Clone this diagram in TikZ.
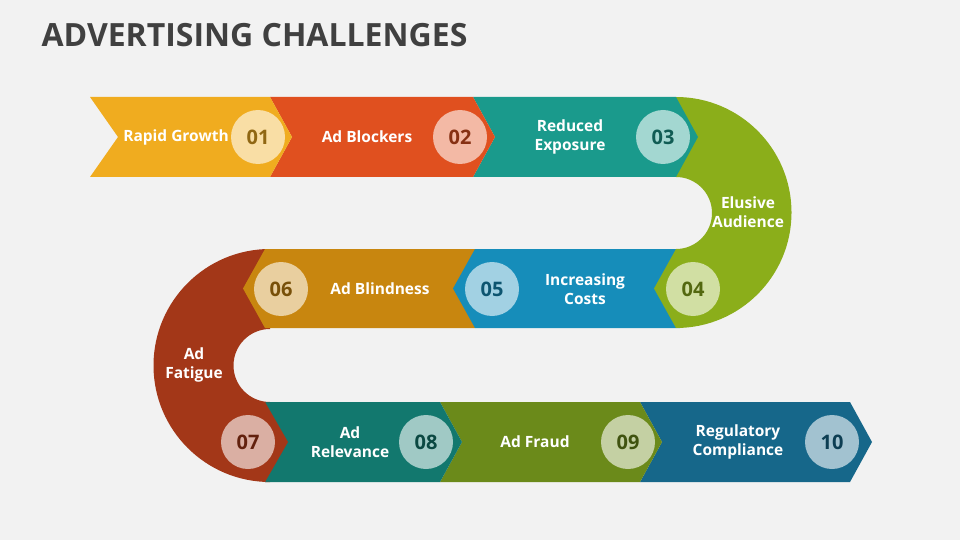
\documentclass[tikz,border=0pt]{standalone}
\usepackage{fontspec}
\setmainfont{Open Sans}
\definecolor{bg}{HTML}{F2F2F2}
\definecolor{cA}{HTML}{F0AC1F}
\definecolor{cB}{HTML}{E0501F}
\definecolor{cC}{HTML}{1A9A8C}
\definecolor{cD}{HTML}{8BAE1A}
\definecolor{cE}{HTML}{168DBA}
\definecolor{cF}{HTML}{C8860F}
\definecolor{cG}{HTML}{A33718}
\definecolor{cH}{HTML}{12786E}
\definecolor{cI}{HTML}{6B8A1A}
\definecolor{cJ}{HTML}{16678A}
\definecolor{ttl}{HTML}{404040}
\begin{document}
\begin{tikzpicture}[x=1pt,y=-1pt,
  lbl/.style={text=white,font=\fontsize{15.5}{19}\selectfont\bfseries,align=center},
  num/.style={circle,minimum size=54pt,inner sep=0pt,font=\fontsize{20}{22}\selectfont\bfseries}]
\fill[bg] (0,0) rectangle (960,540);
\useasboundingbox (0,0) rectangle (960,540);
\node[anchor=west,text=ttl,font=\fontsize{32}{36}\selectfont\bfseries] (title) at (38,35) {ADVERTISING CHALLENGES};
% row 3 (drawn first, right to left)
\fill[cJ] (640,402)--(850,402)--(872,442)--(850,482)--(640,482)--(662,442)--cycle;
\fill[cI] (440,402)--(640,402)--(662,442)--(640,482)--(440,482)--(462,442)--cycle;
\fill[cH] (265,402)--(440,402)--(462,442)--(440,482)--(265,482)--cycle;
% red arc
\fill[cG] (270,249) arc[start angle=-90,end angle=-270,radius=116.5]--(265,482)--(288,442)--(265,402)--(270,402)
  arc[start angle=-270,end angle=-90,radius=36.5]--cycle;
% row 2
\fill[cF] (265,249)--(475,249)--(475,328)--(265,328)--(243,288.5)--cycle;
\fill[cE] (475,249)--(680,249)--(680,328)--(475,328)--(453,288.5)--cycle;
% green arc
\fill[cD] (676,97) arc[start angle=-90,end angle=90,radius=115.5]--(676,328)--(654,288.5)--(676,249)
  arc[start angle=90,end angle=-90,radius=36]--cycle;
% row 1 (right to left so tips overlay)
\fill[cC] (473,97)--(676,97)--(698,137)--(676,177)--(473,177)--(495,137)--cycle;
\fill[cB] (270,97)--(473,97)--(495,137)--(473,177)--(270,177)--(292,137)--cycle;
\fill[cA] (90,97)--(270,97)--(292,137)--(270,177)--(90,177)--(118,137)--cycle;
% circles
\foreach \n/\x/\y/\c in {01/258/137/cA,02/460/137/cB,03/663/137/cC,04/693/289/cD,05/492/289/cE,06/281/289/cF,07/248/442/cG,08/426/442/cH,09/628/442/cI,10/832/442/cJ}
  \node[num,fill=\c!40!white,text=\c!60!black] (n\n) at (\x,\y) {\n};
% labels
\node[lbl] (l1) at (176,137) {Rapid Growth};
\node[lbl] (l2) at (367,137) {Ad Blockers};
\node[lbl] (l3) at (570,137) {Reduced\\Exposure};
\node[lbl] (l4) at (748,212) {Elusive\\Audience};
\node[lbl] (l5) at (585,289) {Increasing\\Costs};
\node[lbl] (l6) at (380,289) {Ad Blindness};
\node[lbl] (l7) at (194,365) {Ad\\Fatigue};
\node[lbl] (l8) at (350,442) {Ad\\Relevance};
\node[lbl] (l9) at (535,442) {Ad Fraud};
\node[lbl] (l10) at (738,442) {Regulatory\\Compliance};
\end{tikzpicture}
\end{document}
